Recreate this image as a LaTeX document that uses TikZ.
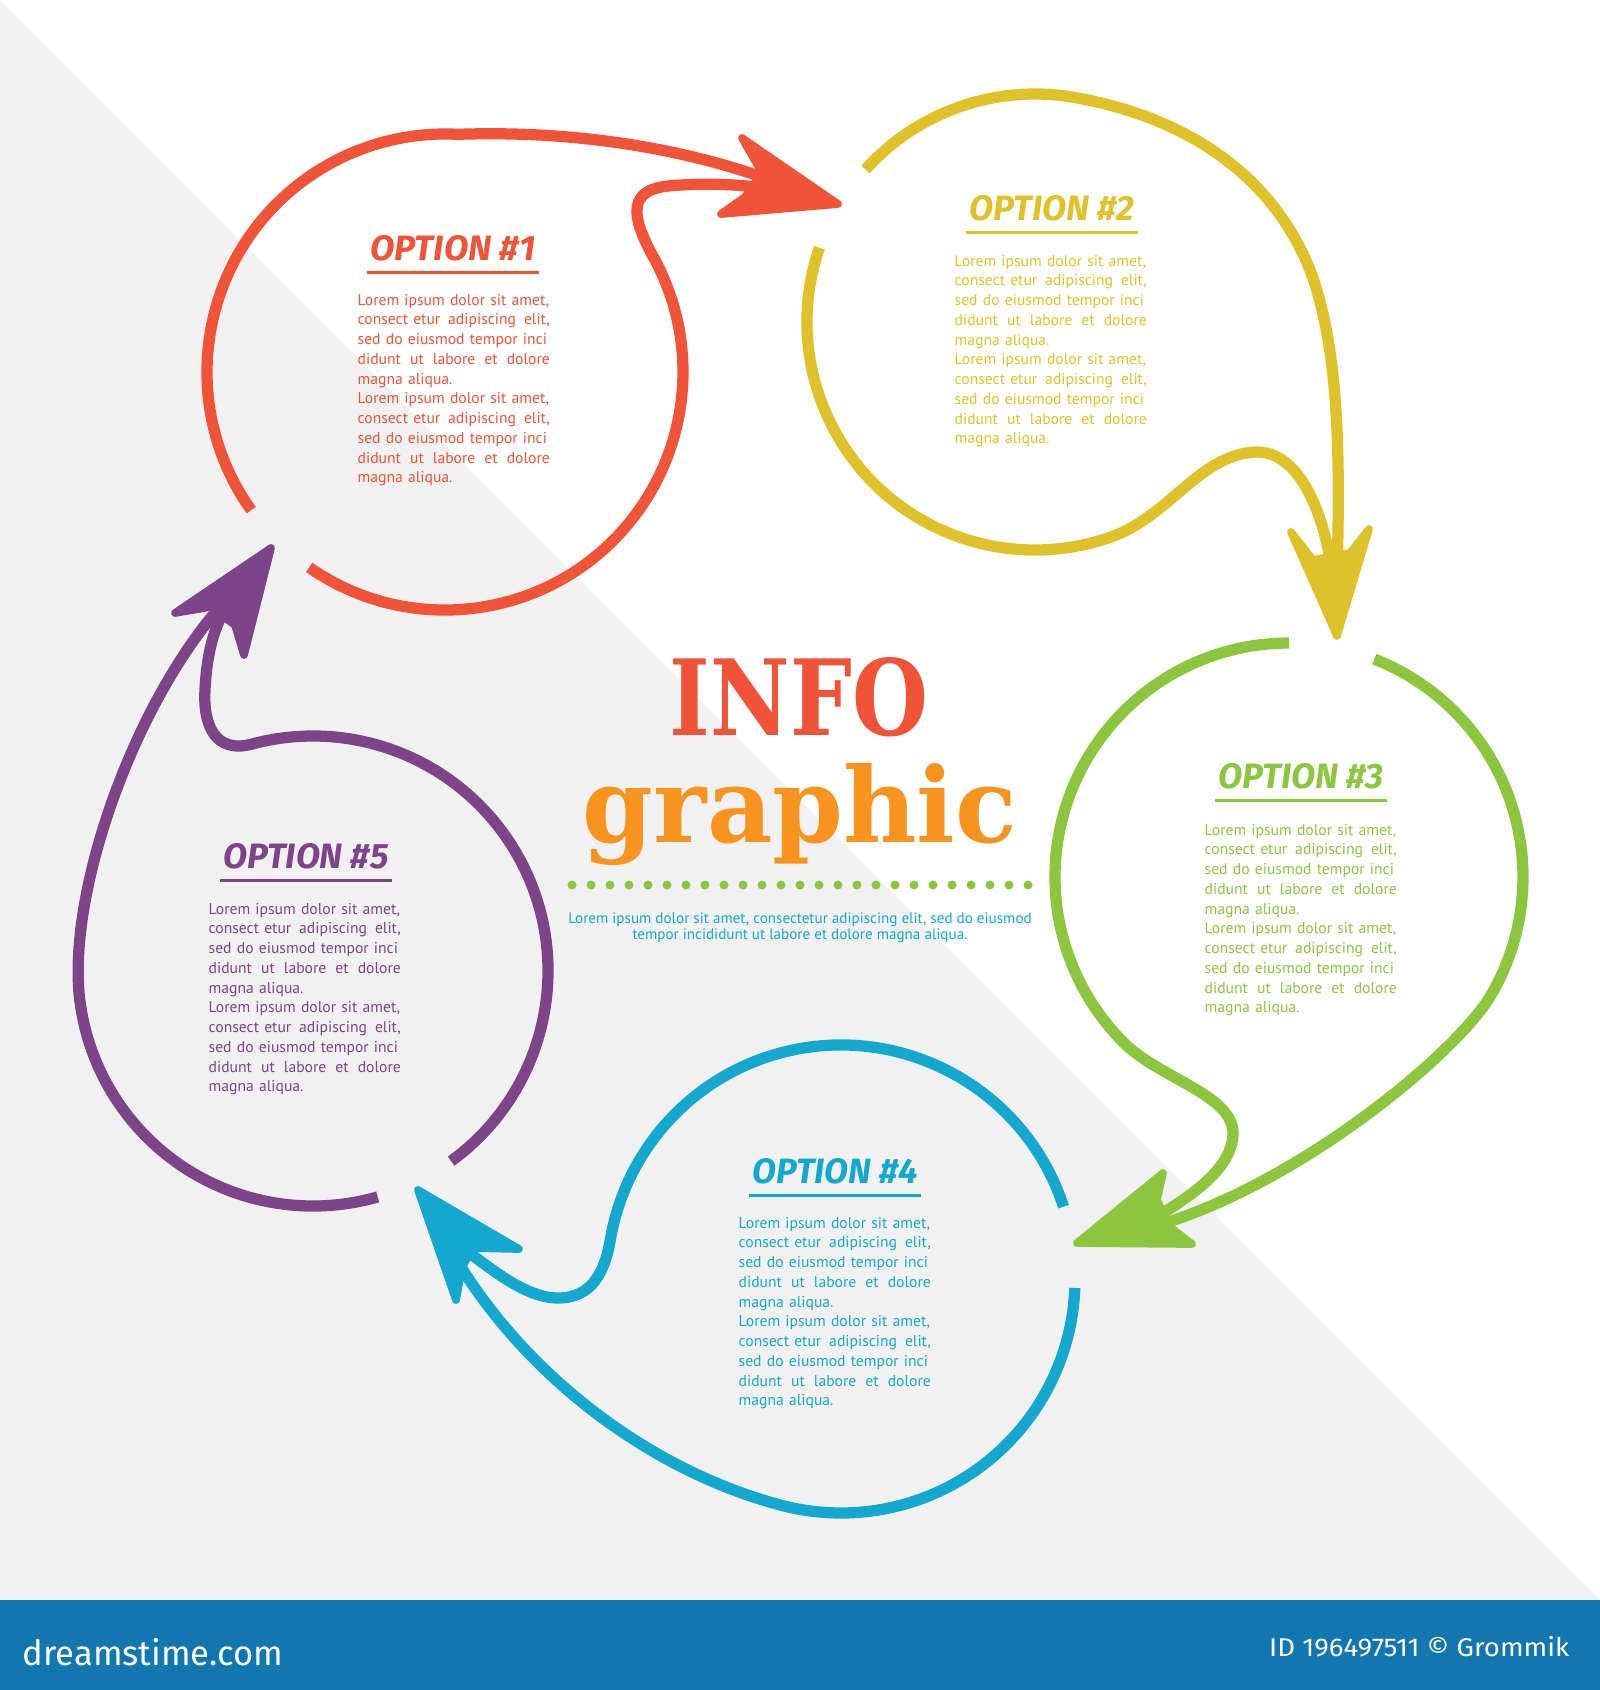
\documentclass[tikz,border=0pt]{standalone}
\usepackage{fontspec}
\usepackage{graphicx}
\setmainfont{PT Sans}
\newfontfamily\titlefont{Fira Sans}
\newfontfamily\infofont{DejaVu Serif}

\definecolor{optred}{HTML}{EF5438}
\definecolor{optyellow}{HTML}{DFC22A}
\definecolor{optgreen}{HTML}{8CC63F}
\definecolor{optblue}{HTML}{14A8CF}
\definecolor{optpurple}{HTML}{7D4488}
\definecolor{infoorange}{HTML}{F7941D}
\definecolor{bggray}{HTML}{F1F1F1}
\definecolor{footblue}{HTML}{1177AE}

\newcommand\bodysize{\fontsize{4.45}{5.62}\selectfont}
\newcommand\fullline[1]{\leavevmode\hbox to 1.92cm{#1}}
\newcommand\loremlines{%
  \fullline{Lorem ipsum dolor sit amet,\hfill}\\
  \fullline{consect etur \hfill adipiscing \hfill elit,}\\
  \fullline{sed do eiusmod tempor inci\hfill}\\
  \fullline{didunt \hfill ut \hfill labore \hfill et \hfill dolore}\\
  magna aliqua.\\
  \fullline{Lorem ipsum dolor sit amet,\hfill}\\
  \fullline{consect etur \hfill adipiscing \hfill elit,}\\
  \fullline{sed do eiusmod tempor inci\hfill}\\
  \fullline{didunt \hfill ut \hfill labore \hfill et \hfill dolore}\\
  magna aliqua.}
\newcommand\optname[1]{\resizebox{1.65cm}{0.25cm}{\titlefont\bfseries\itshape OPTION \##1}}

\tikzset{
  loopline/.style={line width=3.2pt, line join=round},
  headfill/.style={line width=2.2pt, line join=round},
  optitle/.style={anchor=base, inner sep=0pt, text=#1},
  optbody/.style={anchor=base west, inner sep=0pt, text=#1, text width=1.92cm,
    align=left, font=\bodysize},
  underbar/.style={line width=0.9pt}
}

\begin{document}
\begin{tikzpicture}[x=0.01cm, y=-0.01cm]
\useasboundingbox (0,0) rectangle (1600,1690);
% background
\fill[white] (0,0) rectangle (1600,1600);
\fill[bggray] (0,0) -- (1600,1600) -- (0,1600) -- cycle;
\fill[footblue] (0,1600) rectangle (1600,1690);

% loop centres
\coordinate (c1) at (445,372);
\coordinate (c2) at (1035,322);
\coordinate (c3) at (1289,877);
\coordinate (c4) at (841,1279);
\coordinate (c5) at (313,971);

% option 1 (red)
\draw[loopline, optred] (c1) ++(144.5:238) arc[start angle=144.5, end angle=273, radius=238]
  .. controls (580,130) and (690,150) .. (776,182);
\draw[loopline, optred] (c1) ++(124.8:238) arc[start angle=124.8, end angle=-30, radius=238]
  .. controls (630,213) and (630,190) .. (668,186) .. controls (700,183) and (730,184) .. (756,187);
\filldraw[headfill, optred] (838,204) -- (742,138) -- (762,173) -- (745,197) -- (721,214) -- cycle;

% option 2 (yellow)
\draw[loopline, optyellow] (c2) ++(222:228) arc[start angle=222, end angle=280, radius=228]
  .. controls (1180,116) and (1270,170) .. (1310,270) .. controls (1340,350) and (1340,460) .. (1337,578);
\draw[loopline, optyellow] (c2) ++(199:228) arc[start angle=199, end angle=70, radius=228]
  .. controls (1170,515) and (1200,455) .. (1255,452) .. controls (1300,450) and (1325,515) .. (1333,578);
\filldraw[headfill, optyellow] (1337,636) -- (1291,532) -- (1313,560) -- (1350,553) -- (1369,529) -- cycle;

% option 3 (green)
\draw[loopline, optgreen] (c3) ++(270:234) arc[start angle=270, end angle=135, radius=234]
  .. controls (1160,1079) and (1235,1095) .. (1233,1135) .. controls (1231,1170) and (1190,1197) .. (1148,1222);
\draw[loopline, optgreen] (c3) ++(291.4:234) arc[start angle=291.4, end angle=390, radius=234]
  .. controls (1460,1050) and (1300,1185) .. (1152,1227);
\filldraw[headfill, optgreen] (1077,1243) -- (1163,1173) -- (1157,1200) -- (1170,1227) -- (1192,1244) -- cycle;

% option 4 (blue)
\draw[loopline, optblue] (c4) ++(342:234) arc[start angle=342, end angle=190, radius=234]
  .. controls (605,1272) and (592,1298) .. (558,1298) .. controls (525,1298) and (490,1268) .. (455,1242);
\draw[loopline, optblue] (c4) ++(2.2:234) arc[start angle=2.2, end angle=105, radius=234]
  .. controls (645,1469) and (520,1370) .. (452,1252);
\filldraw[headfill, optblue] (418,1190) -- (519,1249) -- (472,1248) -- (462,1268) -- (456,1300) -- cycle;

% option 5 (purple)
\draw[loopline, optpurple] (c5) ++(54:235) arc[start angle=54, end angle=-105, radius=235]
  .. controls (215,754) and (203,725) .. (205,690) .. controls (207,650) and (215,622) .. (233,596);
\draw[loopline, optpurple] (c5) ++(74:235) arc[start angle=74, end angle=175, radius=235]
  .. controls (70,880) and (140,690) .. (230,596);
\filldraw[headfill, optpurple] (271,548) -- (244,655) -- (235,625) -- (210,607) -- (175,613) -- cycle;

% titles and texts
\node[optitle=optred] (t1) at (453,260) {\optname{1}};
\node[optitle=optyellow] (t2) at (1052,220) {\optname{2}};
\node[optitle=optgreen] (t3) at (1301,788) {\optname{3}};
\node[optitle=optblue] (t4) at (835,1183) {\optname{4}};
\node[optitle=optpurple] (t5) at (306,868) {\optname{5}};
\foreach \t/\c in {t1/optred, t2/optyellow, t3/optgreen, t4/optblue, t5/optpurple}
  \draw[underbar, \c] ([xshift=-0.03cm, yshift=-0.11cm]\t.south west) -- ([xshift=0.03cm, yshift=-0.11cm]\t.south east);

\node[optbody=optred] (b1) at (357,305) {\loremlines};
\node[optbody=optyellow] (b2) at (954,266) {\loremlines};
\node[optbody=optgreen] (b3) at (1204,835) {\loremlines};
\node[optbody=optblue] (b4) at (738,1228) {\loremlines};
\node[optbody=optpurple] (b5) at (208,914) {\loremlines};

% centre heading
\node[anchor=base, inner sep=0pt, text=optred] (info) at (799,735) {\resizebox{2.58cm}{0.78cm}{\infofont\bfseries INFO}};
\node[anchor=base, inner sep=0pt, text=infoorange] (graphic) at (800,842) {\resizebox{4.34cm}{0.79cm}{\infofont\bfseries graphic}};
\foreach \i in {0,...,24}
  \fill[optgreen] (572+19*\i,885) circle (0.045cm);
\node[anchor=base, inner sep=0pt, text=optblue, font=\fontsize{4.3}{5}\selectfont] (sub1) at (800,923) {Lorem ipsum dolor sit amet, consectetur adipiscing elit, sed do eiusmod};
\node[anchor=base, inner sep=0pt, text=optblue, font=\fontsize{4.3}{5}\selectfont] (sub2) at (800,939) {tempor incididunt ut labore et dolore magna aliqua.};

% footer
\node[anchor=base west, inner sep=0pt, text=white] (site) at (22,1665) {\resizebox{2.6cm}{0.27cm}{\titlefont dreamstime.com}};
\node[anchor=base east, inner sep=0pt, text=white] (credit) at (1570,1656) {\resizebox{3.0cm}{0.2cm}{\titlefont ID 196497511 © Grommik}};
\end{tikzpicture}
\end{document}
